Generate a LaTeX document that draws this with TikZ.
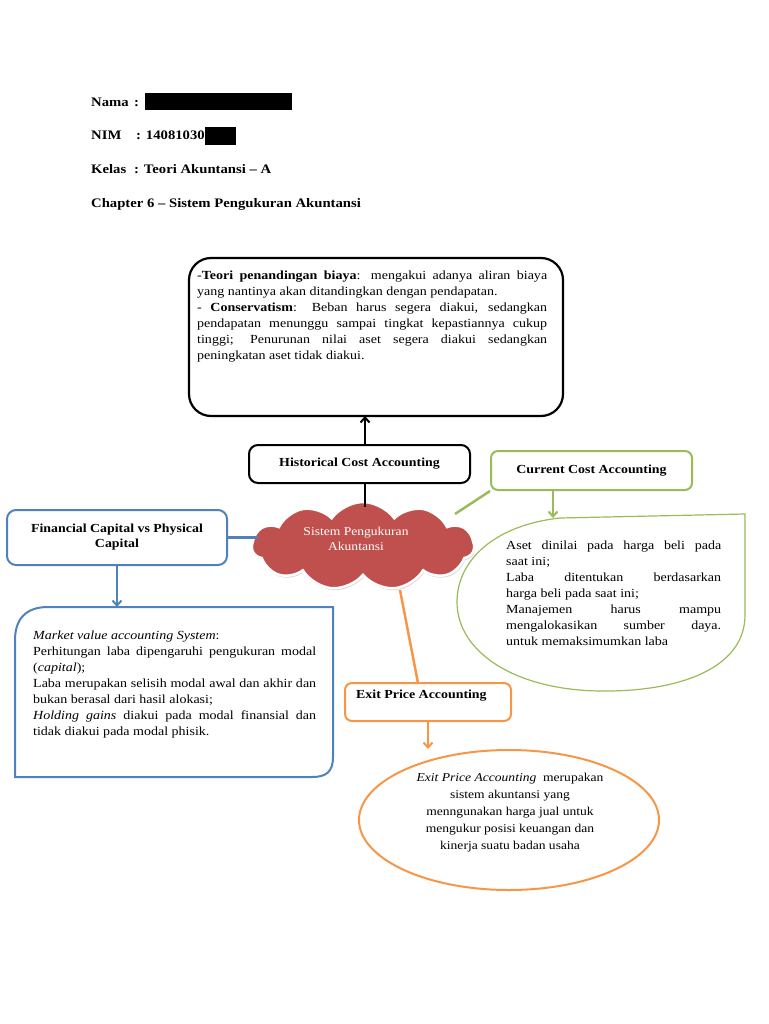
\documentclass[tikz,border=0pt]{standalone}
\usepackage{fontspec}
\setmainfont[FakeStretch=1.13]{Liberation Serif}
\usetikzlibrary{shapes.symbols,shapes.geometric,arrows.meta,shadows}
\definecolor{cred}{HTML}{C0504D}
\definecolor{cgreen}{HTML}{9BBB59}
\definecolor{cblue}{HTML}{4F81BD}
\definecolor{corange}{HTML}{F79646}
\hyphenpenalty=10000
\exhyphenpenalty=10000
\emergencystretch=20pt
\begin{document}
\begin{tikzpicture}[x=1pt,y=-1pt,
  hdr/.style={anchor=base west,inner sep=0,font=\fontsize{13}{15}\selectfont\bfseries},
  body/.style={inner sep=0,font=\fontsize{12.4}{16}\selectfont,align=justify},
  title/.style={font=\fontsize{12.3}{15}\selectfont\bfseries,align=center},
  tip/.style={-{Straight Barb[length=5pt,width=9pt]}},
  blkbox/.style={draw=black,line width=2pt,rounded corners=9pt},
]
\useasboundingbox (0,0) rectangle (768,1024);
% header
\node[hdr] (nama) at (91,107) {Nama};
\node[hdr] (namac) at (134,107) {:};
\fill[black] (145,93) rectangle (292,110);
\node[hdr] (nim) at (91,140) {NIM};
\node[hdr] (nimc) at (136,140) {: 14081030};
\fill[black] (205,127) rectangle (236,145);
\node[hdr] (kelas) at (91,174) {Kelas};
\node[hdr] (kelasc) at (134,174) {: Teori Akuntansi -- A};
\node[hdr] (chap) at (91,208) {Chapter 6 -- Sistem Pengukuran Akuntansi};

% top box
\draw[line width=2.2pt,rounded corners=22pt] (189,258) rectangle (563,416);
\coordinate (topb) at (365,416);
\node[body,anchor=north west,text width=350pt] (toptxt) at (197,271) {-\textbf{Teori penandingan biaya}: mengakui adanya aliran biaya yang nantinya akan ditandingkan dengan pendapatan.\\
- \textbf{Conservatism}: Beban harus segera diakui, sedangkan pendapatan menunggu sampai tingkat kepastiannya cukup tinggi; Penurunan nilai aset segera diakui sedangkan peningkatan aset tidak diakui.};

% historical
\node[blkbox,title,minimum width=221pt,minimum height=38pt] (hist) at (359.5,464) {Historical Cost Accounting};
\draw[line width=2pt,tip] (hist.north -| topb) -- (topb);

% cloud
\node[cloud,cloud puffs=11,cloud puff arc=110,aspect=2.6,fill=cred,draw=white,line width=2.5pt,minimum width=222pt,minimum height=88pt,drop shadow={shadow xshift=1pt,shadow yshift=-2pt,fill=gray!60}] (cloud) at (363,546) {};
\node[align=center,text=white,font=\fontsize{12}{15}\selectfont] (cloudtxt) at (356,539) {Sistem Pengukuran\\Akuntansi};
\draw[line width=2pt] (hist.south -| topb) -- (365,507);

% current cost
\node[draw=cgreen,line width=2pt,rounded corners=7pt,title,minimum width=201pt,minimum height=39pt] (curr) at (591.5,470.5) {Current Cost Accounting};
\coordinate (cl) at (455,514);
\draw[cgreen,line width=2.5pt] (cl) -- (curr.south west);
\draw[cgreen,line width=1.2pt,fill=white] (745,514) -- (745,615) .. controls (745,668) and (680,692) .. (600,691) .. controls (515,690) and (457,652) .. (457,602) .. controls (457,560) and (495,525) .. (560,518) -- cycle;
\coordinate (gtop) at (553,518);
\draw[cgreen,line width=2pt,tip] (curr.south -| gtop) -- (gtop);
\node[body,anchor=north west,text width=215pt] (greentxt) at (506,541) {Aset dinilai pada harga beli pada\linebreak saat ini;\\
Laba ditentukan berdasarkan\linebreak harga beli pada saat ini;\\
Manajemen harus mampu\linebreak mengalokasikan sumber daya.\linebreak untuk memaksimumkan laba};

% financial capital
\node[draw=cblue,line width=2pt,rounded corners=9pt,title,minimum width=220pt,minimum height=55pt] (fin) at (117,537.5) {Financial Capital vs Physical\\Capital};
\draw[cblue,line width=3pt] (fin.east) -- (258,537.5);
\draw[cblue,line width=2pt] (15,777) -- (15,640) .. controls (15,620) and (25,607) .. (48,607) -- (333,607) -- (333,757) .. controls (333,772) and (326,777) .. (312,777) -- cycle;
\coordinate (btop) at (117,607);
\draw[cblue,line width=2pt,tip] (fin.south) -- (btop);
\node[body,anchor=north west,text width=283pt] (bluetxt) at (33,631) {\textit{Market value accounting System}:\\
Perhitungan laba dipengaruhi pengukuran modal (\textit{capital});\\
Laba merupakan selisih modal awal dan akhir dan bukan berasal dari hasil alokasi;\\
\textit{Holding gains} diakui pada modal finansial dan tidak diakui pada modal phisik.};

% exit price
\node[draw=corange,line width=2pt,rounded corners=7pt,minimum width=166pt,minimum height=38pt] (exit) at (428,702) {};
\node[font=\fontsize{12.3}{15}\selectfont\bfseries,anchor=base west,inner sep=0] (exittxt) at (356,698) {Exit Price Accounting};
\coordinate (cb) at (400,590);
\draw[corange,line width=2.5pt] (cb) -- (418,683);
\node[ellipse,draw=corange,line width=2pt,minimum width=300pt,minimum height=140pt] (ell) at (509,820) {};
\draw[corange,line width=2pt,tip] (exit.south) -- (ell.north -| exit.south);
\node[align=center,inner sep=0,font=\fontsize{12}{17}\selectfont] (elltxt) at (510,813) {\textit{Exit Price Accounting}\ \ merupakan\\sistem akuntansi yang\\menngunakan harga jual untuk\\mengukur posisi keuangan dan\\kinerja suatu badan usaha};
\end{tikzpicture}
\end{document}
